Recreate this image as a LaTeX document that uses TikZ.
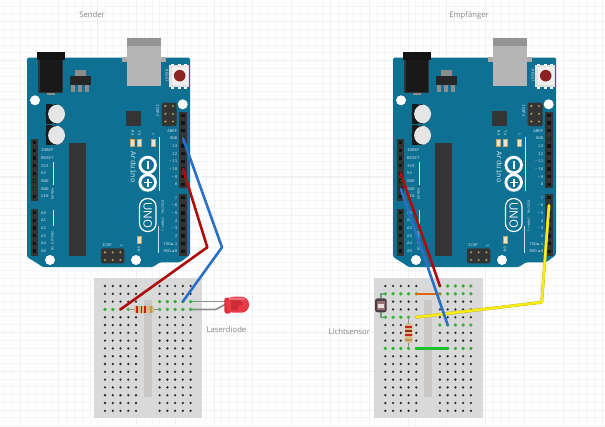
\documentclass[tikz,border=0pt]{standalone}
\usepackage{fontspec}
\setmainfont{Open Sans}
\newfontfamily\pinfont{Liberation Mono}
\newfontfamily\symfont{DejaVu Sans}
\definecolor{boardc}{HTML}{0E7092}
\definecolor{hdrc}{HTML}{343434}
\definecolor{pinc}{HTML}{141414}
\definecolor{silk}{HTML}{CFE2E9}
\definecolor{titlec}{HTML}{858585}
\definecolor{bbc}{HTML}{D9D9D9}
\definecolor{stripc}{HTML}{C9C8C6}
\definecolor{holec}{HTML}{2E2E2E}
\definecolor{greenh}{HTML}{2FB52F}
\definecolor{gridc}{HTML}{F3F6F8}
\definecolor{gridm}{HTML}{ECF1F4}
\definecolor{wred}{HTML}{AE0D0D}
\definecolor{wblue}{HTML}{2B70C8}
\definecolor{wyellow}{HTML}{FAEE10}
\definecolor{wyedge}{HTML}{B9B030}
\definecolor{worange}{HTML}{E2660F}
\definecolor{wgreen}{HTML}{1CC22E}
\definecolor{resc}{HTML}{D8BC84}
\definecolor{leadc}{HTML}{8F8F8F}
\definecolor{ledc}{HTML}{EA3A46}
\definecolor{resetc}{HTML}{8C2222}
\definecolor{goldpin}{HTML}{B09A5A}
\definecolor{ledfill}{HTML}{E9E4D2}
\definecolor{ledline}{HTML}{C9A96A}
\definecolor{gndpin}{HTML}{1E5A22}
\definecolor{stripeR}{HTML}{C62020}
\definecolor{stripeB}{HTML}{8A2A1A}
\definecolor{stripeG}{HTML}{B89A50}
\definecolor{ledflange}{HTML}{D92F3B}
\definecolor{ledhi}{HTML}{F4717A}
\definecolor{ledin}{HTML}{CF2C38}
\definecolor{ldrlead}{HTML}{6F9C80}
\definecolor{ldrdark}{HTML}{4A4248}
\definecolor{ldrbody}{HTML}{9C6F70}
\definecolor{ldrface}{HTML}{E8DEDC}
\tikzset{
  x=1pt,y=-1pt,
  title/.style={font=\fontsize{7.7}{8}\selectfont,text=titlec,inner sep=0pt},
  pinlab/.style={font=\pinfont\fontsize{4.1}{4.5}\selectfont,text=silk,inner sep=0pt},
  pinlabr/.style={pinlab,anchor=east},
  pinlabl/.style={pinlab,anchor=west},
  pinlabv/.style={pinlab,rotate=-90},
  silkline/.style={draw=silk,line width=.6pt},
  wire/.style={line width=2.6pt,line cap=round,line join=round},
}
\newcommand\hdrpin[2]{\fill[pinc] (#1-1.7,#2-1.7) rectangle (#1+1.7,#2+1.7);}
\newcommand\unoboard[2]{%
\begin{scope}[shift={(#2,0)}]
  \fill[boardc,rounded corners=1.5pt] (27,57.5) -- (190,57.5) -- (190,255) -- (180,262.3) -- (160,262.3) -- (153,267) -- (42,267) -- (40,265) -- (27,257) -- cycle;
  \fill[black!33] (121.7,57.3) rectangle (165.7,62);
  \fill[black!29] (126.7,38.3) rectangle (161.3,86);
  \fill[black!42] (126.7,38.3) rectangle (161.3,46);
  % power jack
  \fill[black!45] (47,91) rectangle (55,94.5);
  \fill[black!80] (38.3,60) rectangle (63.3,92.7);
  \fill[black!90] (40,60) rectangle (61.5,91.5);
  \fill[black!92] (37.3,52.3) rectangle (64.7,60);
  % regulator
  \fill[black!45] (75,70) rectangle (85.7,76);
  \fill[black!85] (70,76) rectangle (90.7,85.3);
  \foreach \lx in {71.3,78.3,85.3}{\fill[black!45] (\lx,85.3) rectangle (\lx+4,92);}
  % reset
  \fill[black!12] (169.3,65) rectangle (189.3,87.3);
  \foreach \lx in {171,177.5,184}{\fill[black!5] (\lx,63.5) rectangle (\lx+3,66); \fill[black!5] (\lx,86.5) rectangle (\lx+3,89);}
  \fill[black!6] (171.5,67) rectangle (187.5,85);
  \fill[resetc] (179.7,75.7) circle (5.8);
  \node[pinlabv,name=#1-reset] at (167,76) {RESET};
  % mounting holes
  \fill[white] (35,100.3) circle (5);
  \fill[white] (182.7,104.3) circle (5);
  \fill[white] (50,260) circle (5);
  \fill[white] (136,260) circle (5);
  % capacitors
  \foreach \cy in {114,135.3}{
    \fill[black!90] (45.5,\cy-10) rectangle (52,\cy+10);
    \begin{scope}
      \clip (55.3,\cy) circle (9.8);
      \fill[black!90] (45,\cy-11) rectangle (66,\cy+11);
      \fill[black!10] (57.5,\cy) circle (9.4);
    \end{scope}
  }
  % chips
  \fill[hdrc] (69,142.7) rectangle (86,256);
  \fill[hdrc] (126,111) rectangle (141,126);
  % headers
  \fill[hdrc] (179.3,111.7) rectangle (186.9,188.3);
  \fill[hdrc] (179.3,194) rectangle (186.9,256);
  \fill[hdrc] (31,139.3) rectangle (38.4,201);
  \fill[hdrc] (31,209) rectangle (38.4,256);
  \foreach \py in {115.4,123,130.7,138.3,146,153.7,161.3,169,176.7,184.3,197.7,205.3,213,220.7,228.3,236,243.7,251.4}{\hdrpin{183}{\py}}
  \foreach \py in {142.7,150.4,158,165.7,173.4,181,188.7,196.4,212.7,220.4,228,235.7,243.4,251}{\hdrpin{34.7}{\py}}
  % ICSP blocks
  \fill[hdrc,rounded corners=2pt] (101,248.3) rectangle (124.3,263.3);
  \foreach \ix in {105,112.7,120.4}{\foreach \iy in {252.3,260}{\fill[goldpin] (\ix,\iy) circle (1.2);}}
  \fill[hdrc,rounded corners=2pt] (161.7,102.7) rectangle (176.7,126);
  \foreach \ix in {165.4,173}{\foreach \iy in {106,113.8,121.5}{\fill[goldpin] (\ix,\iy) circle (1.2);}}
  \node[pinlabv,name=#1-icsptwo] at (157.7,110.7) {ICSP2};
  \node[pinlab,name=#1-icsp] at (107,245.5) {ICSP};
  \node[pinlabv,name=#1-icspone] at (121.7,245.5) {1};
  % LEDs
  \foreach \lx/\ln in {132.7/RX,139.3/TX,153.7/L}{
    \filldraw[fill=ledfill,draw=ledline,line width=.5pt] (\lx-2,139) rectangle (\lx+2,146.7);
    \node[pinlabv,anchor=east,name=#1-led\ln] at (\lx,136) {\ln};
  }
  \filldraw[fill=ledfill,draw=ledline,line width=.5pt] (137,236) rectangle (141,243.3);
  \node[pinlabv,name=#1-ledon] at (139,249) {ON};
  % silk lines and texts
  \draw[silkline] (159,137) -- (159,191);
  \draw[silkline] (158.7,226) -- (158.7,253);
  \node[pinlabv,name=#1-digital,font=\pinfont\fontsize{3.5}{4}\selectfont] at (162.5,216) {DIGITAL (PWM=\textasciitilde)};
  \draw[silkline] (53.5,162) -- (53.5,185);
  \node[pinlabv,name=#1-powerlab,font=\pinfont\fontsize{3.5}{4}\selectfont] at (52.5,194) {POWER};
  \draw[silkline] (53.5,210) -- (53.5,226);
  \node[pinlabv,name=#1-analog,font=\pinfont\fontsize{3.5}{4}\selectfont] at (52.5,241) {ANALOG IN};
  \foreach \t/\py [count=\c] in {AREF/130.7,GND/138.3,13/146,12/153.7,\textasciitilde\,11/161.3,\textasciitilde\,10/169,\textasciitilde\,9/176.7,8/184.3,7/197.7,\textasciitilde\,6/205.3,\textasciitilde\,5/213,4/220.7,\textasciitilde\,3/228.3,2/236,{TXD{\symfont\fontsize{3.5}{4}\selectfont\,►}\,1}/243.7,{RXD{\symfont\fontsize{3.5}{4}\selectfont\,◄}\,0}/251.4}{
    \node[pinlabr,name=#1-rl\c] at (177.5,\py) {\t};
  }
  \foreach \t/\py [count=\c] in {IOREF/150.4,RESET/158,3V3/165.7,5V/173.4,GND/181,GND/188.7,VIN/196.4,A0/212.7,A1/220.4,A2/228,A3/235.7,A4/243.4,A5/251}{
    \node[pinlabl,name=#1-ll\c] at (41,\py) {\t};
  }
  % logo
  \draw[white,line width=2.8pt] (147.7,165) circle (7.8);
  \draw[white,line width=2.8pt] (147.7,182.5) circle (7.8);
  \fill[white] (146.9,161) rectangle (148.5,169);
  \fill[white] (146.9,178.5) rectangle (148.5,186.5);
  \fill[white] (143.7,181.7) rectangle (151.7,183.3);
  \node[rotate=-90,inner sep=0pt,text=silk,font=\pinfont\fontsize{7.4}{8}\selectfont,name=#1-ard] at (133.5,167) {Arduino};
  \draw[white,line width=1.2pt,rounded corners=8pt] (139.5,198.5) rectangle (156,231.5);
  \node[rotate=-90,inner sep=0pt,text=white,font=\fontsize{11.5}{12}\selectfont,name=#1-uno] at (147.7,215) {UNO};
  % named pins
  \coordinate (#1-gnd) at (183,138.3);
  \coordinate (#1-dten) at (183,169);
  \coordinate (#1-dsix) at (183,205.3);
  \coordinate (#1-fivev) at (34.7,173.4);
  \coordinate (#1-gndl) at (34.7,188.7);
  \foreach \gy in {181,188.7}{\fill[gndpin] (34.7,\gy) circle (1.4);}
  \fill[gndpin] (183,138.3) circle (1.4);
\end{scope}}
\newcommand\breadboard[2]{%
\begin{scope}[shift={(#2,0)}]
  \fill[bbc] (93.5,278.3) rectangle (202.3,418.3);
  \fill[stripc] (144.1,299.5) rectangle (151.9,397.3);
  \foreach \hx [count=\c] in {105,112.8,120.5,128.3,136,159.6,167.4,175.1,182.8,190.6}{
    \foreach \r in {0,...,16}{
      \pgfmathsetmacro\hy{286+7.8*\r}
      \coordinate (#1-\c-\r) at (\hx,\hy);
      \fill[holec] (\hx,\hy) circle (1.3);
    }
  }
\end{scope}}
\newcommand\greens[2]{\foreach \g in {#2}{\fill[greenh] (#1-\g) circle (1.8);}}
\begin{document}
\begin{tikzpicture}
\useasboundingbox (0,0) rectangle (605,426);
\fill[white] (0,0) rectangle (605,426);
\foreach \i in {0,...,77}{
  \pgfmathsetmacro\gx{4.5+7.76*\i}
  \draw[gridc,line width=.7pt] (\gx,0) -- (\gx,426);
}
\foreach \i in {0,...,54}{
  \pgfmathsetmacro\gy{6+7.77*\i}
  \draw[gridc,line width=.7pt] (0,\gy) -- (605,\gy);
}
\foreach \i in {0,...,15}{
  \pgfmathsetmacro\gx{20+38.8*\i}
  \draw[gridm,line width=.9pt] (\gx,0) -- (\gx,426);
}
\foreach \i in {0,...,10}{
  \pgfmathsetmacro\gy{21.5+38.85*\i}
  \draw[gridm,line width=.9pt] (0,\gy) -- (605,\gy);
}
\node[title,name=sender] at (92,15) {Sender};
\node[title,name=empf] at (469,15) {Empfänger};
\node[title,name=laser] at (226.5,329.7) {Laserdiode};
\node[title,name=licht] at (349.3,331.5) {Lichtsensor};
\unoboard{s}{0}
\unoboard{e}{366}
\breadboard{bl}{0}
\breadboard{br}{280.3}
% left breadboard highlighted rows
\greens{bl}{1-3,2-3,3-3,4-3,6-2,7-2,8-2,9-2,10-2,6-3,7-3,8-3,9-3,10-3}
% left resistor
\draw[leadc,line width=1.5pt] (bl-4-3) -- (bl-6-3);
\fill[resc,rounded corners=1.5pt] (134,305.8) rectangle (154,313);
\foreach \sx/\sc in {137.3/stripeR,141.5/stripeB,145.2/stripeR,151/stripeG}{\fill[\sc] (\sx-.9,305.8) rectangle (\sx+.9,313);}
% laser LED
\coordinate (ledA) at (226,301.6);
\coordinate (ledB) at (226,304);
\draw[leadc,line width=1.7pt] (bl-10-2) -- (ledA);
\draw[leadc,line width=1.7pt] (bl-10-3) -- (216,309.4) -- (ledB);
\draw[greenh!70!leadc,line width=1.7pt] (bl-10-2) -- ++(6,0);
\draw[greenh!70!leadc,line width=1.7pt] (bl-10-3) -- ++(6,0);
\fill[ledflange,rounded corners=2.5pt] (224.3,297.5) rectangle (231,313.5);
\fill[ledc,rounded corners=7.5pt] (226,296.7) rectangle (249,312.7);
\fill[ledhi,rounded corners=3pt] (229,297.5) rectangle (245,300.5);
\fill[ledin] (231,300) -- (241,300) -- (243,305) -- (238,305) -- (238,310) -- (231,310) -- cycle;
% right breadboard highlighted rows
\greens{br}{6-0,7-0,8-0,9-0,10-0,1-1,2-1,3-1,4-1,5-1,6-1,7-1,8-1,9-1,10-1,1-4,2-4,3-4,4-4,6-5,7-5,8-5,9-5,10-5,1-8,2-8,3-8,4-8,5-8,6-8,7-8,8-8,9-8,10-8}
% LDR
\draw[ldrlead,line width=1.6pt] (br-1-1) -- (381,294) -- (381,298);
\draw[ldrlead,line width=1.6pt] (br-1-4) -- (381,317.4) -- (381,312);
\fill[ldrdark,rounded corners=2.5pt] (375,298.3) rectangle (386.7,312.3);
\fill[ldrbody] (376.7,300.5) rectangle (385,310);
\fill[ldrface] (378,304) rectangle (384,308);
% vertical resistor
\draw[leadc,line width=1.5pt] (br-4-4) -- (br-4-8);
\fill[resc,rounded corners=1.5pt] (405.2,323.3) rectangle (412.3,342.7);
\foreach \sy/\sc in {326.7/stripeR,331/stripeB,335/stripeR,340/stripeG}{\fill[\sc] (405.2,\sy-.8) rectangle (412.3,\sy+.8);}
% wires
\coordinate (sred) at (207.3,247.3);
\coordinate (sblue) at (222,247.3);
\coordinate (eyel) at (541.7,302.3);
\draw[wire,wblue] (s-gnd) -- (sblue) -- (bl-9-2);
\draw[wire,wred] (s-dten) -- (sred) -- (bl-3-3);
\draw[wire,worange] (br-5-1) -- (br-6-1);
\draw[wire,wgreen] (br-5-8) -- (br-7-8);
\draw[wire,wyedge,line width=3pt] (br-5-4) -- (eyel) -- (e-dsix);
\draw[wire,wyellow,line width=2.3pt] (br-5-4) -- (eyel) -- (e-dsix);
\draw[wire,wblue] (e-gndl) -- (br-7-5);
\draw[wire,wred] (e-fivev) -- (br-6-0);
\end{tikzpicture}
\end{document}
